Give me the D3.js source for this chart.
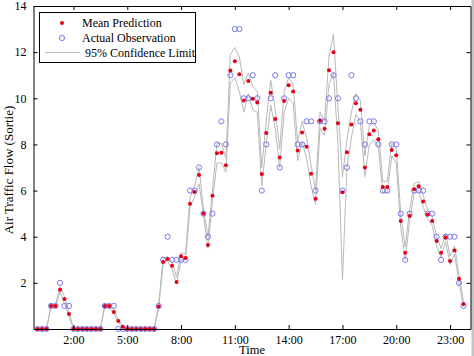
<!DOCTYPE html>
<html><head><meta charset="utf-8">
<script src="https://cdn.jsdelivr.net/npm/d3@7"></script>
<style>
body{margin:0;background:#fff;}
svg{display:block;font-family:"Liberation Serif","Times New Roman",serif;}
</style></head>
<body>
<svg id="chart" width="474" height="356"></svg>
<script>
// time index: 15-minute slots (hours = i/4)
const slots = d3.range(96);
const meanPrediction = [0,0,0,1,1,1.7,1.3,0.65,0,0,0,0,0,0,0,1,1,0.74,0.35,0.1,
0,0,0,0,0,0,0,0.97,2.9,3.03,2.74,2.04,3.15,3.08,5.43,5.94,6.68,5.01,3.64,5.78,
7.62,7.64,7.1,11.2,11.6,11.04,9.9,10.75,9.98,9.82,6.72,8.5,10.24,9.1,7.43,9.88,10.57,10.29,7.74,8.52,
7.9,6.73,5.65,9.03,8.68,11.22,12.0,8.92,5.93,7.66,8.86,9.78,9.5,7.0,8.44,8.6,8.22,6.15,6.15,7.76,
7.53,4.68,3.31,4.9,6.06,6.19,5.53,4.96,4.68,3.81,3.31,3.97,2.95,3.4,2.18,1.08];
const actualObservation = [0,0,0,1,1,2,1,1,0,0,0,0,0,0,0,1,1,1,0,0,
0,0,0,0,0,0,0,1,3,4,3,3,3,3,6,6,7,5,4,5,
8,9,8,11,13,13,10,10,11,10,6,8,10,11,7,10,11,11,8,8,
9,9,6,9,9,10,11,10,6,7,11,10,9,8,9,9,8,6,6,8,
8,5,3,5,6,6,6,5,5,4,3,4,4,4,2,1];
const lowerLimit = [0,0,0,0.95,0.95,1.6,1.1,0.55,0,0,0,0,0,0,0,0.95,0.95,0.65,0.3,0.05,
0,0,0,0,0,0,0,0.9,2.8,2.95,2.6,1.95,3.0,3.0,5.3,5.7,6.3,4.9,3.5,5.55,
7.2,7.2,6.8,10.65,10.9,10.3,9.4,10.2,9.5,9.4,6.2,8.0,9.7,8.7,7.0,9.4,10.0,9.8,7.3,8.1,
7.4,6.2,5.4,8.7,8.4,10.6,11.1,8.0,2.12,7.0,8.3,9.3,9.0,6.6,8.0,8.2,7.9,5.9,5.9,7.5,
7.2,4.4,3.0,4.7,5.9,6.0,5.3,4.75,4.5,3.6,3.1,3.8,2.8,3.25,2.0,0.95];
const upperLimit = [0,0,0,1.05,1.05,1.85,1.4,0.75,0.05,0,0,0,0,0,0,1.05,1.05,0.85,0.4,0.15,
0,0,0,0,0,0,0,1.05,3.05,3.15,2.9,2.25,3.3,3.25,5.7,6.15,7.0,5.2,4.0,6.0,
8.05,8.05,7.4,11.9,12.2,11.8,10.6,11.1,10.5,10.3,7.0,9.0,10.8,9.5,7.8,10.3,10.9,10.6,8.1,9.0,
8.3,7.1,6.0,9.4,9.0,11.8,12.77,9.6,6.6,8.2,9.4,10.2,9.9,7.5,8.8,8.95,8.6,6.4,6.4,8.05,
7.85,5.0,3.55,5.2,6.3,6.4,5.8,5.15,4.9,4.0,3.5,4.15,3.15,3.6,2.35,1.2];
const xTickHours = [2,5,8,11,14,17,20,23];
const xTickLabels = ["2:00","5:00","8:00","11:00","14:00","17:00","20:00","23:00"];
const yTicks = [2,4,6,8,10,12,14];
const legendLabels = ["Mean Prediction","Actual Observation","95% Confidence Limit"];

const svg = d3.select("#chart");
const L = 33.5, R = 470.5, T = 6, B = 329;
const x = d3.scaleLinear().domain([-0.228, 24.14]).range([L, R]);
const y = d3.scaleLinear().domain([0, 14]).range([B, T]);
const hour = i => i / 4;

const red = "#e5001a", blue = "#7878f0", gray = "#b9b9b9";

// right edge artifact band
svg.append("rect").attr("x", 471.5).attr("y", 0).attr("width", 3).attr("height", 356).attr("fill", "#c4c4c4");

// confidence limits
const line = arr => d3.line().x(i => x(hour(i))).y(i => y(arr[i]))(slots);
svg.append("path").attr("d", line(upperLimit)).attr("fill", "none").attr("stroke", gray).attr("stroke-width", 1);
svg.append("path").attr("d", line(lowerLimit)).attr("fill", "none").attr("stroke", gray).attr("stroke-width", 1);

// actual observation
svg.append("g").selectAll("circle").data(slots).join("circle")
  .attr("cx", i => x(hour(i))).attr("cy", i => y(actualObservation[i])).attr("r", 2.6)
  .attr("fill", "none").attr("stroke", blue).attr("stroke-width", 1);
// mean prediction
svg.append("g").selectAll("circle").data(slots).join("circle")
  .attr("cx", i => x(hour(i))).attr("cy", i => y(meanPrediction[i])).attr("r", 2)
  .attr("fill", red);

// axes (box with inward ticks)
const axBottom = d3.axisBottom(x).tickValues(xTickHours).tickFormat((d, k) => xTickLabels[k]).tickSizeInner(-4).tickSizeOuter(0).tickPadding(6);
const axTop = d3.axisTop(x).tickValues(xTickHours).tickFormat("").tickSizeInner(-4).tickSizeOuter(0);
const axLeft = d3.axisLeft(y).tickValues(yTicks).tickSizeInner(-4).tickSizeOuter(0).tickPadding(7);
const axRight = d3.axisRight(y).tickValues(yTicks).tickFormat("").tickSizeInner(-4).tickSizeOuter(0);
function style(g){
  g.select(".domain").attr("stroke", "#000").attr("stroke-width", 1);
  g.selectAll(".tick line").attr("stroke", "#000");
  g.selectAll(".tick text").attr("font-family", "Liberation Serif").attr("font-size", 12).attr("fill", "#000");
}
svg.append("g").attr("transform", `translate(0,${B})`).call(axBottom).call(style);
svg.append("g").attr("transform", `translate(0,${T})`).call(axTop).call(style);
svg.append("g").attr("transform", `translate(${L},0)`).call(axLeft).call(style);
svg.append("g").attr("transform", `translate(${R},0)`).call(axRight).call(style);

// axis titles
svg.append("text").attr("x", 252).attr("y", 354).attr("text-anchor", "middle")
  .attr("font-size", 12.5).text("Time");
svg.append("text").attr("transform", "translate(13,170) rotate(-90)").attr("text-anchor", "middle")
  .attr("font-size", 13).text("Air Traffic Flow (Sortie)");

// legend
const lg = svg.append("g");
lg.append("rect").attr("x", 39.5).attr("y", 12.5).attr("width", 156).attr("height", 50)
  .attr("fill", "#fff").attr("stroke", "#000").attr("stroke-width", 1);
const rows = [23, 38, 52.5];
lg.append("circle").attr("cx", 62).attr("cy", rows[0]).attr("r", 2).attr("fill", red);
lg.append("circle").attr("cx", 62).attr("cy", rows[1]).attr("r", 2.6).attr("fill", "none").attr("stroke", blue);
lg.append("line").attr("x1", 45).attr("x2", 80).attr("y1", rows[2]).attr("y2", rows[2]).attr("stroke", gray);
lg.selectAll("text").data(legendLabels).join("text")
  .attr("x", (d, k) => k === 2 ? 85 : 82).attr("y", (d, k) => rows[k] + 4)
  .attr("font-size", 12).text(d => d);
</script>
</body></html>
